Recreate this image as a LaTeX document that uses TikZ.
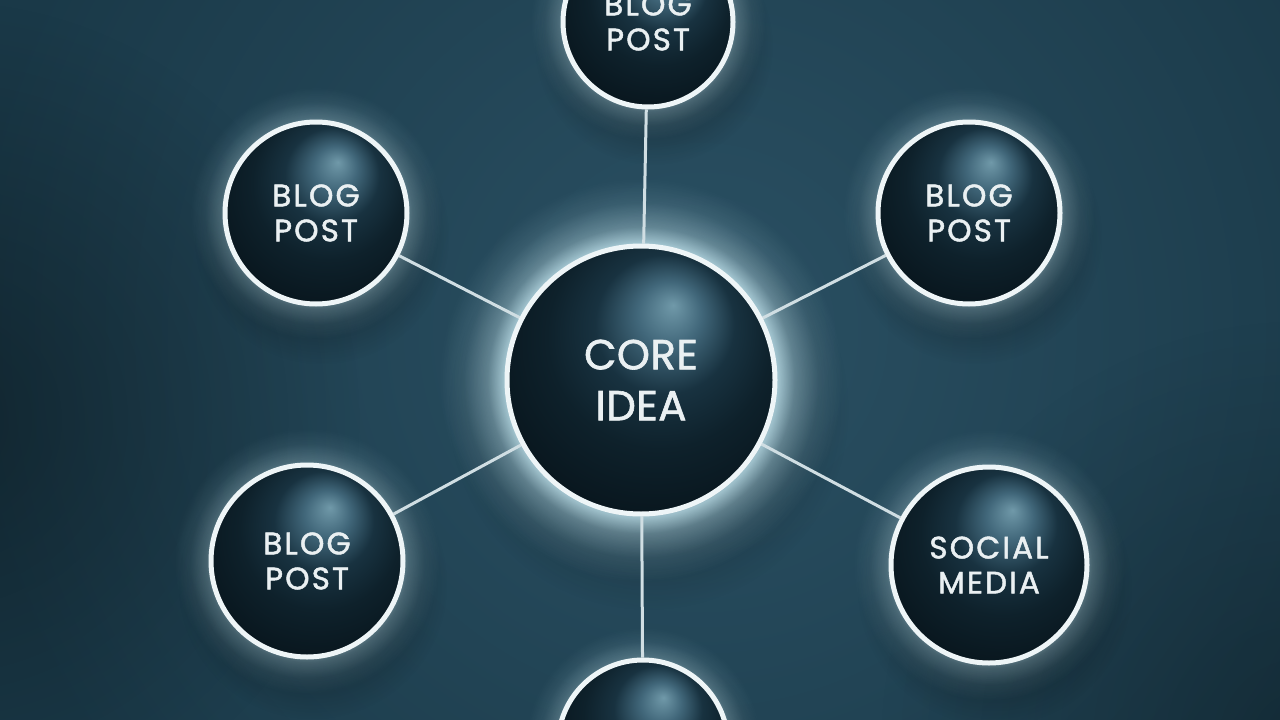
\documentclass[tikz,border=0pt]{standalone}
\usepackage{fontspec}
\setmainfont{Poppins}
\newfontfamily\satfont{Poppins}[FakeBold=1.5, LetterSpace=7]
\newfontfamily\corefont{Poppins}[FakeBold=1.5, LetterSpace=1]
\usetikzlibrary{fadings}
\definecolor{bgbase}{HTML}{1A3948}
\definecolor{bglight}{HTML}{2B5164}
\definecolor{ringc}{HTML}{EEF5F7}
\definecolor{glowc}{HTML}{BFE2EC}
\definecolor{linkc}{HTML}{D0DEE3}
\definecolor{txt}{HTML}{EAF0F2}
\definecolor{sph0}{HTML}{7099A9}
\definecolor{sph1}{HTML}{41677A}
\definecolor{sph2}{HTML}{183240}
\definecolor{sph3}{HTML}{0E212B}
\definecolor{sph4}{HTML}{07131A}
\pgfdeclareradialshading{spherehl}{\pgfpoint{6bp}{14bp}}{color(0bp)=(sph0); color(6bp)=(sph1); color(13bp)=(sph2); color(21bp)=(sph3); color(34bp)=(sph4); color(50bp)=(sph4)}
\pgfdeclareradialshading{glowshade}{\pgfpointorigin}{color(0bp)=(pgftransparent!0); color(17bp)=(pgftransparent!0); color(19bp)=(pgftransparent!50); color(22bp)=(pgftransparent!85); color(25bp)=(pgftransparent!100); color(50bp)=(pgftransparent!100)}
\pgfdeclarefading{glowfade}{\pgfuseshading{glowshade}}
\pgfdeclareradialshading{softshade}{\pgfpointorigin}{color(0bp)=(pgftransparent!0); color(25bp)=(pgftransparent!100); color(50bp)=(pgftransparent!100)}
\pgfdeclarefading{softfade}{\pgfuseshading{softshade}}
\pgfdeclarelayer{bg}
\pgfdeclarelayer{glow}
\pgfdeclarelayer{links}
\pgfsetlayers{bg,glow,links,main}
\tikzset{
  sphere/.style={circle, minimum size=#1, inner sep=0pt, draw=ringc, line width=5pt,
    shade, shading=spherehl, text=txt, align=center},
  satlabel/.style={font=\satfont\fontsize{31}{35}\selectfont},
  corelabel/.style={font=\corefont\fontsize{42}{51}\selectfont},
  link/.style={draw=linkc, line width=3pt},
  glowring/.style={glowc, opacity=#1, path fading=glowfade},
  shadowspot/.style={black, opacity=#1, path fading=softfade},
}
\begin{document}
\begin{tikzpicture}[x=1pt, y=-1pt]
\useasboundingbox (0,0) rectangle (1280,720);
\clip (0,0) rectangle (1280,720);
% nodes
\node[sphere=268pt, corelabel] (core) at (641,380) {CORE\\IDEA};
\node[sphere=170pt, satlabel] (top) at (648,22) {BLOG\\POST};
\node[sphere=182pt, satlabel] (ul) at (316,213) {BLOG\\POST};
\node[sphere=182pt, satlabel] (ur) at (969,213) {BLOG\\POST};
\node[sphere=192pt, satlabel] (ll) at (307,561) {BLOG\\POST};
\node[sphere=196pt, satlabel] (lr) at (989,565) {SOCIAL\\MEDIA};
\node[sphere=170pt] (bot) at (643,745) {};
% background
\begin{pgfonlayer}{bg}
  \fill[bgbase] (0,0) rectangle (1280,720);
  \fill[bglight, path fading=softfade] (700,330) circle (750pt);
  \fill[black, opacity=0.35, path fading=softfade] (-60,420) circle (420pt);
  \fill[black, opacity=0.25, path fading=softfade] (1300,740) circle (420pt);
  \fill[shadowspot=0.55] ([shift={(8pt,-30pt)}]core.center) circle (200pt);
  \foreach \n/\r in {top/85, ul/91, ur/91, ll/96, lr/98, bot/85}{
    \fill[shadowspot=0.6] ([shift={(6pt,-24pt)}]\n.center) circle (1.4*\r pt);
  }
\end{pgfonlayer}
% glow
\begin{pgfonlayer}{glow}
  \fill[glowring=0.8] (core.center) circle (1.5*134pt);
  \foreach \n/\r in {top/85, ul/91, ur/91, ll/96, lr/98, bot/85}{
    \fill[glowring=0.55] (\n.center) circle (1.38*\r pt);
  }
\end{pgfonlayer}
% links
\begin{pgfonlayer}{links}
  \foreach \n in {top, ul, ur, ll, lr, bot}{
    \draw[link] (core) -- (\n);
  }
\end{pgfonlayer}
\end{tikzpicture}
\end{document}
